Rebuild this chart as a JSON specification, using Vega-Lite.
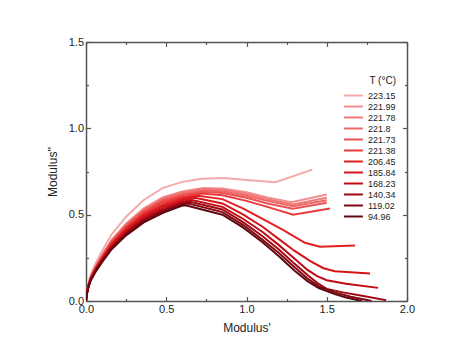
{
  "$schema": "https://vega.github.io/schema/vega-lite/v6.json",
  "width": 321,
  "height": 259,
  "autosize": "none",
  "padding": {"left": 86, "top": 42, "right": 67, "bottom": 61},
  "background": "#ffffff",
  "config": {
    "view": {"stroke": null},
    "font": "Liberation Sans",
    "axis": {
      "domainColor": "#555555",
      "domainWidth": 1.5,
      "tickColor": "#555555",
      "tickWidth": 1.2,
      "grid": false,
      "labelColor": "#222222",
      "labelFontSize": 11,
      "titleColor": "#222222",
      "titleFontSize": 12,
      "titleFontWeight": "normal"
    }
  },
  "data": {
    "values": [
      {"T":"223.15","x":0,"y":0},{"T":"223.15","x":0.005,"y":0.051},{"T":"223.15","x":0.015,"y":0.103},{"T":"223.15","x":0.03,"y":0.154},{"T":"223.15","x":0.06,"y":0.218},{"T":"223.15","x":0.1,"y":0.289},{"T":"223.15","x":0.16,"y":0.386},{"T":"223.15","x":0.25,"y":0.488},{"T":"223.15","x":0.36,"y":0.585},{"T":"223.15","x":0.48,"y":0.655},{"T":"223.15","x":0.6,"y":0.69},{"T":"223.15","x":0.72,"y":0.708},{"T":"223.15","x":0.86,"y":0.713},{"T":"223.15","x":1.02,"y":0.7},{"T":"223.15","x":1.18,"y":0.688},{"T":"223.15","x":1.41,"y":0.761},
      {"T":"221.99","x":0,"y":0},{"T":"221.99","x":0.005,"y":0.047},{"T":"221.99","x":0.015,"y":0.094},{"T":"221.99","x":0.03,"y":0.142},{"T":"221.99","x":0.06,"y":0.201},{"T":"221.99","x":0.1,"y":0.266},{"T":"221.99","x":0.16,"y":0.354},{"T":"221.99","x":0.25,"y":0.448},{"T":"221.99","x":0.36,"y":0.537},{"T":"221.99","x":0.48,"y":0.602},{"T":"221.99","x":0.6,"y":0.635},{"T":"221.99","x":0.73,"y":0.655},{"T":"221.99","x":0.85,"y":0.652},{"T":"221.99","x":1.0,"y":0.63},{"T":"221.99","x":1.13,"y":0.6},{"T":"221.99","x":1.28,"y":0.572},{"T":"221.99","x":1.5,"y":0.617},
      {"T":"221.78","x":0,"y":0},{"T":"221.78","x":0.005,"y":0.047},{"T":"221.78","x":0.015,"y":0.093},{"T":"221.78","x":0.03,"y":0.14},{"T":"221.78","x":0.06,"y":0.199},{"T":"221.78","x":0.1,"y":0.263},{"T":"221.78","x":0.16,"y":0.35},{"T":"221.78","x":0.25,"y":0.444},{"T":"221.78","x":0.36,"y":0.531},{"T":"221.78","x":0.48,"y":0.596},{"T":"221.78","x":0.6,"y":0.628},{"T":"221.78","x":0.73,"y":0.648},{"T":"221.78","x":0.85,"y":0.645},{"T":"221.78","x":1.0,"y":0.62},{"T":"221.78","x":1.13,"y":0.59},{"T":"221.78","x":1.29,"y":0.559},{"T":"221.78","x":1.5,"y":0.598},
      {"T":"221.8","x":0,"y":0},{"T":"221.8","x":0.005,"y":0.046},{"T":"221.8","x":0.015,"y":0.092},{"T":"221.8","x":0.03,"y":0.138},{"T":"221.8","x":0.06,"y":0.196},{"T":"221.8","x":0.1,"y":0.259},{"T":"221.8","x":0.16,"y":0.346},{"T":"221.8","x":0.25,"y":0.438},{"T":"221.8","x":0.36,"y":0.525},{"T":"221.8","x":0.48,"y":0.588},{"T":"221.8","x":0.6,"y":0.62},{"T":"221.8","x":0.73,"y":0.64},{"T":"221.8","x":0.85,"y":0.635},{"T":"221.8","x":1.0,"y":0.61},{"T":"221.8","x":1.13,"y":0.58},{"T":"221.8","x":1.29,"y":0.549},{"T":"221.8","x":1.5,"y":0.584},
      {"T":"221.73","x":0,"y":0},{"T":"221.73","x":0.005,"y":0.046},{"T":"221.73","x":0.015,"y":0.091},{"T":"221.73","x":0.03,"y":0.137},{"T":"221.73","x":0.06,"y":0.194},{"T":"221.73","x":0.1,"y":0.256},{"T":"221.73","x":0.16,"y":0.342},{"T":"221.73","x":0.25,"y":0.433},{"T":"221.73","x":0.36,"y":0.518},{"T":"221.73","x":0.48,"y":0.581},{"T":"221.73","x":0.6,"y":0.612},{"T":"221.73","x":0.73,"y":0.632},{"T":"221.73","x":0.85,"y":0.625},{"T":"221.73","x":1.0,"y":0.598},{"T":"221.73","x":1.13,"y":0.565},{"T":"221.73","x":1.29,"y":0.534},{"T":"221.73","x":1.5,"y":0.569},
      {"T":"221.38","x":0,"y":0},{"T":"221.38","x":0.005,"y":0.045},{"T":"221.38","x":0.015,"y":0.09},{"T":"221.38","x":0.03,"y":0.135},{"T":"221.38","x":0.06,"y":0.191},{"T":"221.38","x":0.1,"y":0.252},{"T":"221.38","x":0.16,"y":0.336},{"T":"221.38","x":0.25,"y":0.426},{"T":"221.38","x":0.36,"y":0.51},{"T":"221.38","x":0.48,"y":0.572},{"T":"221.38","x":0.6,"y":0.603},{"T":"221.38","x":0.72,"y":0.622},{"T":"221.38","x":0.85,"y":0.612},{"T":"221.38","x":1.0,"y":0.58},{"T":"221.38","x":1.13,"y":0.545},{"T":"221.38","x":1.29,"y":0.5},{"T":"221.38","x":1.52,"y":0.536},
      {"T":"206.45","x":0,"y":0},{"T":"206.45","x":0.005,"y":0.044},{"T":"206.45","x":0.015,"y":0.088},{"T":"206.45","x":0.03,"y":0.132},{"T":"206.45","x":0.06,"y":0.187},{"T":"206.45","x":0.1,"y":0.247},{"T":"206.45","x":0.16,"y":0.33},{"T":"206.45","x":0.25,"y":0.418},{"T":"206.45","x":0.36,"y":0.5},{"T":"206.45","x":0.48,"y":0.56},{"T":"206.45","x":0.6,"y":0.595},{"T":"206.45","x":0.7,"y":0.61},{"T":"206.45","x":0.85,"y":0.59},{"T":"206.45","x":0.98,"y":0.535},{"T":"206.45","x":1.1,"y":0.475},{"T":"206.45","x":1.23,"y":0.41},{"T":"206.45","x":1.364,"y":0.337},{"T":"206.45","x":1.458,"y":0.314},{"T":"206.45","x":1.676,"y":0.321},
      {"T":"185.84","x":0,"y":0},{"T":"185.84","x":0.005,"y":0.043},{"T":"185.84","x":0.015,"y":0.086},{"T":"185.84","x":0.03,"y":0.129},{"T":"185.84","x":0.06,"y":0.183},{"T":"185.84","x":0.1,"y":0.242},{"T":"185.84","x":0.16,"y":0.323},{"T":"185.84","x":0.25,"y":0.409},{"T":"185.84","x":0.36,"y":0.49},{"T":"185.84","x":0.48,"y":0.549},{"T":"185.84","x":0.6,"y":0.585},{"T":"185.84","x":0.68,"y":0.598},{"T":"185.84","x":0.85,"y":0.565},{"T":"185.84","x":0.98,"y":0.5},{"T":"185.84","x":1.1,"y":0.43},{"T":"185.84","x":1.2,"y":0.36},{"T":"185.84","x":1.3,"y":0.29},{"T":"185.84","x":1.4,"y":0.23},{"T":"185.84","x":1.48,"y":0.19},{"T":"185.84","x":1.55,"y":0.172},{"T":"185.84","x":1.77,"y":0.159},
      {"T":"168.23","x":0,"y":0},{"T":"168.23","x":0.005,"y":0.042},{"T":"168.23","x":0.015,"y":0.084},{"T":"168.23","x":0.03,"y":0.126},{"T":"168.23","x":0.06,"y":0.179},{"T":"168.23","x":0.1,"y":0.237},{"T":"168.23","x":0.16,"y":0.316},{"T":"168.23","x":0.25,"y":0.4},{"T":"168.23","x":0.36,"y":0.48},{"T":"168.23","x":0.48,"y":0.538},{"T":"168.23","x":0.6,"y":0.575},{"T":"168.23","x":0.66,"y":0.585},{"T":"168.23","x":0.85,"y":0.545},{"T":"168.23","x":0.98,"y":0.475},{"T":"168.23","x":1.1,"y":0.4},{"T":"168.23","x":1.2,"y":0.325},{"T":"168.23","x":1.3,"y":0.245},{"T":"168.23","x":1.38,"y":0.18},{"T":"168.23","x":1.44,"y":0.144},{"T":"168.23","x":1.5,"y":0.12},{"T":"168.23","x":1.62,"y":0.1},{"T":"168.23","x":1.82,"y":0.076},
      {"T":"140.34","x":0,"y":0},{"T":"140.34","x":0.005,"y":0.041},{"T":"140.34","x":0.015,"y":0.083},{"T":"140.34","x":0.03,"y":0.124},{"T":"140.34","x":0.06,"y":0.176},{"T":"140.34","x":0.1,"y":0.233},{"T":"140.34","x":0.16,"y":0.311},{"T":"140.34","x":0.25,"y":0.394},{"T":"140.34","x":0.36,"y":0.471},{"T":"140.34","x":0.48,"y":0.528},{"T":"140.34","x":0.6,"y":0.568},{"T":"140.34","x":0.65,"y":0.575},{"T":"140.34","x":0.85,"y":0.53},{"T":"140.34","x":0.98,"y":0.455},{"T":"140.34","x":1.1,"y":0.375},{"T":"140.34","x":1.2,"y":0.3},{"T":"140.34","x":1.3,"y":0.215},{"T":"140.34","x":1.38,"y":0.15},{"T":"140.34","x":1.44,"y":0.105},{"T":"140.34","x":1.5,"y":0.07},{"T":"140.34","x":1.6,"y":0.05},{"T":"140.34","x":1.72,"y":0.03},{"T":"140.34","x":1.87,"y":0.005},
      {"T":"119.02","x":0,"y":0},{"T":"119.02","x":0.005,"y":0.041},{"T":"119.02","x":0.015,"y":0.081},{"T":"119.02","x":0.03,"y":0.122},{"T":"119.02","x":0.06,"y":0.173},{"T":"119.02","x":0.1,"y":0.229},{"T":"119.02","x":0.16,"y":0.305},{"T":"119.02","x":0.25,"y":0.387},{"T":"119.02","x":0.36,"y":0.463},{"T":"119.02","x":0.48,"y":0.519},{"T":"119.02","x":0.6,"y":0.56},{"T":"119.02","x":0.64,"y":0.565},{"T":"119.02","x":0.85,"y":0.515},{"T":"119.02","x":0.98,"y":0.44},{"T":"119.02","x":1.1,"y":0.355},{"T":"119.02","x":1.2,"y":0.28},{"T":"119.02","x":1.3,"y":0.195},{"T":"119.02","x":1.38,"y":0.13},{"T":"119.02","x":1.45,"y":0.085},{"T":"119.02","x":1.55,"y":0.05},{"T":"119.02","x":1.65,"y":0.025},{"T":"119.02","x":1.78,"y":0.0},
      {"T":"94.96","x":0,"y":0},{"T":"94.96","x":0.005,"y":0.04},{"T":"94.96","x":0.015,"y":0.08},{"T":"94.96","x":0.03,"y":0.12},{"T":"94.96","x":0.06,"y":0.17},{"T":"94.96","x":0.1,"y":0.225},{"T":"94.96","x":0.16,"y":0.3},{"T":"94.96","x":0.25,"y":0.38},{"T":"94.96","x":0.36,"y":0.455},{"T":"94.96","x":0.48,"y":0.51},{"T":"94.96","x":0.6,"y":0.553},{"T":"94.96","x":0.62,"y":0.555},{"T":"94.96","x":0.85,"y":0.5},{"T":"94.96","x":0.98,"y":0.425},{"T":"94.96","x":1.1,"y":0.34},{"T":"94.96","x":1.2,"y":0.26},{"T":"94.96","x":1.3,"y":0.175},{"T":"94.96","x":1.38,"y":0.115},{"T":"94.96","x":1.45,"y":0.075},{"T":"94.96","x":1.55,"y":0.04},{"T":"94.96","x":1.62,"y":0.02},{"T":"94.96","x":1.72,"y":0.0}
    ]
  },
  "layer": [
    {
      "mark": {"type": "line", "strokeWidth": 2, "clip": true},
      "encoding": {
        "x": {
          "field": "x", "type": "quantitative",
          "scale": {"domain": [0, 2], "nice": false},
          "axis": {
            "orient": "bottom", "title": "Modulus'",
            "values": [0, 0.25, 0.5, 0.75, 1, 1.25, 1.5, 1.75, 2],
            "format": ".1f",
            "labelExpr": "datum.value % 0.5 === 0 ? datum.label : ''",
            "tickSize": {"condition": {"test": "datum.value % 0.5 !== 0", "value": -2.5}, "value": -4.5},
            "labelPadding": 7, "titlePadding": 6, "labelFlush": false, "labelOverlap": false
          }
        },
        "y": {
          "field": "y", "type": "quantitative",
          "scale": {"domain": [0, 1.5], "nice": false},
          "axis": {
            "orient": "left", "title": "Modulus''",
            "values": [0, 0.25, 0.5, 0.75, 1, 1.25, 1.5],
            "format": ".1f",
            "labelExpr": "datum.value % 0.5 === 0 ? datum.label : ''",
            "tickSize": {"condition": {"test": "datum.value % 0.5 !== 0", "value": -2.5}, "value": -4.5},
            "labelPadding": 7, "titlePadding": 9, "labelFlush": false, "labelOverlap": false
          }
        },
        "color": {
          "field": "T", "type": "nominal",
          "scale": {
            "domain": ["223.15","221.99","221.78","221.8","221.73","221.38","206.45","185.84","168.23","140.34","119.02","94.96"],
            "range": ["#f4aaaa","#f28e8e","#f07878","#ee6868","#ec5252","#e83c3c","#e02222","#d41418","#c00a14","#a00814","#800812","#600810"]
          },
          "legend": {
            "orient": "none", "legendX": 257, "legendY": 34,
            "title": "T (°C)", "titleFontSize": 10, "titleFontWeight": "normal", "titleColor": "#222222",
            "titleAnchor": "end", "titlePadding": 4,
            "labelFontSize": 9, "labelColor": "#222222", "labelOffset": 14,
            "symbolType": "M-1,0H3.2", "symbolStrokeWidth": 2, "symbolSize": 81,
            "rowPadding": -0.4
          }
        }
      }
    },
    {
      "mark": {"type": "point", "opacity": 0},
      "encoding": {
        "x": {
          "field": "x", "type": "quantitative",
          "scale": {"domain": [0, 2], "nice": false},
          "axis": {
            "orient": "top", "title": null, "labels": false,
            "values": [0, 0.25, 0.5, 0.75, 1, 1.25, 1.5, 1.75, 2],
            "tickSize": {"condition": {"test": "datum.value % 0.5 !== 0", "value": -2.5}, "value": -4.5}
          }
        },
        "y": {
          "field": "y", "type": "quantitative",
          "scale": {"domain": [0, 1.5], "nice": false},
          "axis": {
            "orient": "right", "title": null, "labels": false,
            "values": [0, 0.25, 0.5, 0.75, 1, 1.25, 1.5],
            "tickSize": {"condition": {"test": "datum.value % 0.5 !== 0", "value": -2.5}, "value": -4.5}
          }
        }
      }
    }
  ],
  "resolve": {"axis": {"x": "independent", "y": "independent"}}
}
